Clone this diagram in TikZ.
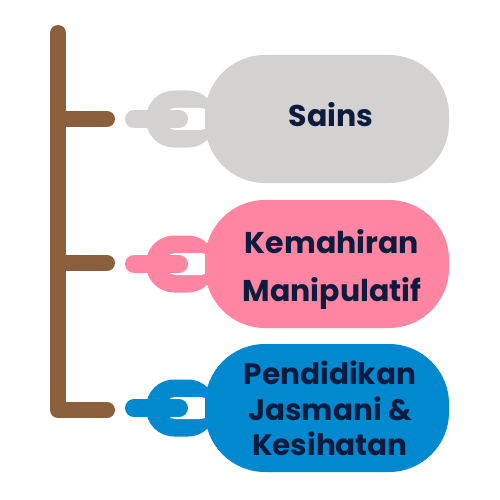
\documentclass[tikz,border=0pt]{standalone}
\usepackage{fontspec}
\newfontfamily\tagfont{Poppins}
\definecolor{brownc}{HTML}{8B5E3C}
\definecolor{greyc}{HTML}{D3D2D0}
\definecolor{pinkc}{HTML}{FF85A2}
\definecolor{bluec}{HTML}{0089CF}
\definecolor{navyc}{HTML}{0D1B3E}
\begin{document}
\begin{tikzpicture}[x=1pt,y=-1pt,
  spine/.style={draw=brownc,line width=16pt,line cap=round,line join=round},
  ring/.style={rectangle,minimum width=70pt,minimum height=57pt,rounded corners=28pt,inner sep=0pt},
  hole/.style={rectangle,fill=white,minimum width=45pt,minimum height=22pt,rounded corners=10pt,inner sep=0pt},
  clasp/.style={line width=18pt,line cap=round},
  tagbody/.style={rectangle,minimum width=244pt,minimum height=128pt,rounded corners=60pt,inner sep=0pt},
  lbl/.style={text=navyc,anchor=base,inner sep=0pt,font=\tagfont\bfseries\fontsize{30}{36}\selectfont},
  lbls/.style={lbl,font=\tagfont\bfseries\fontsize{29.5}{34}\selectfont}]
\useasboundingbox (0,0) rectangle (500,500);
% spine
\coordinate (top) at (58,33);
\coordinate (j1) at (58,119);
\coordinate (j2) at (58,263);
\coordinate (j3) at (58,410);
\coordinate (e1) at (107,119);
\coordinate (e2) at (107,263);
\coordinate (e3) at (107,410);
\draw[spine] (top) -- (j3) -- (e3);
\draw[spine] (j1) -- (e1);
\draw[spine] (j2) -- (e2);
% tags
\foreach \y/\c/\n in {119/greyc/1,264/pinkc/2,408/bluec/3}{
  \node[ring,fill=\c] (r\n) at (181,\y) {};
  \node[hole] (h\n) at (188,\y) {};
  \coordinate (ca\n) at (134,\y);
  \coordinate (cb\n) at (179,\y);
  \draw[clasp,draw=\c] (ca\n) -- (cb\n);
  \node[tagbody,fill=\c] (t\n) at (327,\y) {};
}
\node[lbl] (s1) at (331,126) {Sains};
\node[lbl] (k1) at (332,253) {Kemahiran};
\node[lbl] (k2) at (332,301) {Manipulatif};
\node[lbls] (p1) at (330,384) {Pendidikan};
\node[lbls] (p2) at (330,420) {Jasmani \&};
\node[lbls] (p3) at (330,455) {Kesihatan};
\end{tikzpicture}
\end{document}
